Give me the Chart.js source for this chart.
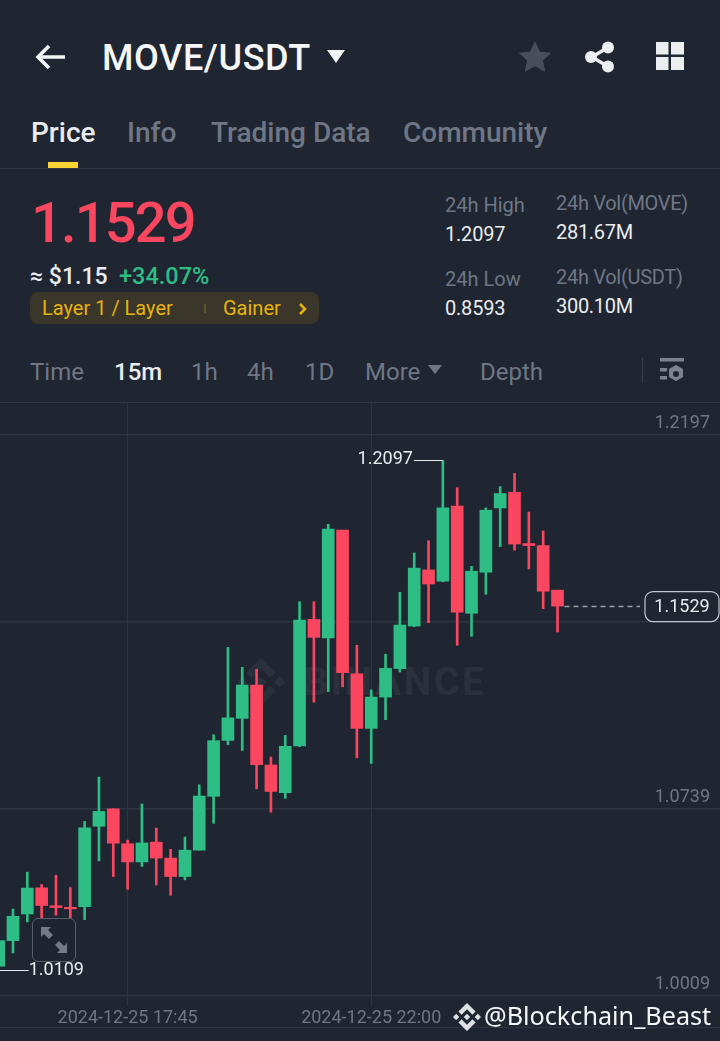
<!DOCTYPE html>
<html>
<head>
<meta charset="utf-8">
<title>MOVE/USDT</title>
<script src="https://cdn.jsdelivr.net/npm/chart.js@4"></script>
<style>
    html, body { margin: 0; padding: 0; background: #1f2631; }
    body { position: relative; width: 720px; height: 1041px; overflow: hidden; font-family: Roboto, sans-serif; }
    .t { position: absolute; white-space: nowrap; line-height: 1; margin-left: -1px; }
    .grey { color: #6f7786; }
    .white { color: #eaecef; }
    .line { position: absolute; left: 0; width: 720px; height: 1px; background: #2f3642; }
    svg { position: absolute; }
    #chartBox { position: absolute; left: 0; top: 402px; width: 720px; height: 626px; }
</style>
</head>
<body>

<!-- cabecalho -->
<svg style="left:34px;top:42px" width="34" height="30" viewBox="0 0 34 30" fill="none" stroke="#f2f3f5" stroke-width="3.6">
    <path d="M31 15H4M15 4L4 15l11 11"/>
</svg>
<div class="t" style="left:103px;top:40px;font-size:36px;font-weight:500;letter-spacing:0.6px;color:#f5f6f7">MOVE/USDT</div>
<svg style="left:326px;top:49px" width="20" height="15"><path d="M1 1h18l-9 13z" fill="#f2f3f5"/></svg>
<svg style="left:518px;top:40px" width="34" height="34" viewBox="0 0 34 34"><path d="M17 2l4.6 10 10.9 1.2-8.1 7.3 2.3 10.7L17 25.7l-9.700 5.500 2.300-10.700L1.500 13.200 12.400 12z" fill="#474e5c" stroke="#474e5c" stroke-linejoin="round"/></svg>
<svg style="left:584px;top:40px" width="32" height="34" viewBox="0 0 32 34">
    <path d="M8 17L23 8M8 17l15 9" stroke="#eceef2" stroke-width="3.500"/>
    <circle cx="7" cy="17" r="6" fill="#eceef2"/><circle cx="24" cy="7.500" r="6" fill="#eceef2"/><circle cx="24" cy="26.500" r="6" fill="#eceef2"/>
</svg>
<svg style="left:656px;top:42px" width="28" height="28"><path d="M0 0h12.500v12.500H0zM15 0h13v12.500H15zM0 15h12.500v13H0zM15 15h13v13H15z" fill="#eceef2"/></svg>

<!-- abas -->
<div class="t white" style="left:32px;top:119px;font-size:28px;font-weight:500">Price</div>
<div class="t grey" style="left:128px;top:119px;font-size:28px;font-weight:500">Info</div>
<div class="t grey" style="left:212px;top:119px;font-size:28px;font-weight:500">Trading Data</div>
<div class="t grey" style="left:404px;top:119px;font-size:28px;font-weight:500">Community</div>
<div style="position:absolute;left:48px;top:162px;width:30px;height:6px;background:#fcd535"></div>
<div class="line" style="top:168px"></div>

<!-- preco -->
<div class="t" style="left:32px;top:195px;font-size:56px;font-weight:500;letter-spacing:-1.8px;color:#fb4660">1.1529</div>
<div class="t white" style="left:31px;top:265px;font-size:23px;font-weight:500">≈ $1.15</div>
<div class="t" style="left:120px;top:265px;font-size:23.500px;font-weight:500;color:#2ebd85">+34.07%</div>
<div style="position:absolute;left:30px;top:292px;width:289px;height:32px;border-radius:8px;background:#3a3629"></div>
<div class="t" style="left:43px;top:298px;font-size:20px;color:#e8b30f">Layer 1 / Layer</div>
<div style="position:absolute;left:204px;top:304px;width:2px;height:9px;background:#5f5526"></div>
<div class="t" style="left:224px;top:298px;font-size:20px;color:#e8b30f">Gainer</div>
<svg style="left:298px;top:302px" width="10" height="14" fill="none" stroke="#e8b30f" stroke-width="2.500"><path d="M2 2l5 5-5 5"/></svg>

<div class="t grey" style="left:446px;top:195px;font-size:20px">24h High</div>
<div class="t white" style="left:446px;top:224px;font-size:20px;letter-spacing:-0.2px">1.2097</div>
<div class="t grey" style="left:446px;top:269px;font-size:20px">24h Low</div>
<div class="t white" style="left:446px;top:298px;font-size:20px;letter-spacing:-0.2px">0.8593</div>
<div class="t grey" style="left:557px;top:193px;font-size:20px;letter-spacing:-0.3px">24h Vol(MOVE)</div>
<div class="t white" style="left:557px;top:222px;font-size:20px;letter-spacing:-0.3px">281.67M</div>
<div class="t grey" style="left:557px;top:267px;font-size:20px;letter-spacing:-0.3px">24h Vol(USDT)</div>
<div class="t white" style="left:557px;top:296px;font-size:20px;letter-spacing:-0.3px">300.10M</div>

<!-- intervalos -->
<div class="t grey" style="left:31px;top:360px;font-size:24px">Time</div>
<div class="t white" style="left:115px;top:360px;font-size:24px;font-weight:500">15m</div>
<div class="t grey" style="left:192px;top:360px;font-size:24px">1h</div>
<div class="t grey" style="left:248px;top:360px;font-size:24px">4h</div>
<div class="t grey" style="left:306px;top:360px;font-size:24px">1D</div>
<div class="t grey" style="left:366px;top:360px;font-size:24px">More</div>
<svg style="left:428px;top:365px" width="14" height="10"><path d="M0 0h14l-7 9z" fill="#6f7786"/></svg>
<div class="t grey" style="left:481px;top:360px;font-size:24px">Depth</div>
<div style="position:absolute;left:642px;top:358px;width:1px;height:25px;background:#383f4b"></div>
<svg style="left:660px;top:358px" width="24" height="26" fill="#7b8391">
    <path d="M0 0h24v3.500H0zM0 10h7v3.500H0zM0 18h7v3.500H0z"/>
    <path fill-rule="evenodd" d="M16 7l7 4v8l-7 4-7-4v-8zm0 6a3 3 0 100 6 3 3 0 000-6z"/>
</svg>

<!-- grafico -->
<div class="line" style="top:402px"></div>
<div class="line" style="top:1027px"></div>
<svg style="left:237px;top:658px" width="48" height="48" viewBox="0 0 24 24"><path fill="#2a313c" d="M16.624 13.92l2.717 2.716-7.353 7.353-7.352-7.352 2.717-2.717 4.636 4.66 4.635-4.66zm4.637-4.636L24 12l-2.715 2.716L18.568 12l2.693-2.716zm-9.272 0l2.716 2.692-2.717 2.717L9.272 12l2.716-2.715zm-9.273 0L5.41 12l-2.692 2.692L0 12l2.716-2.716zM11.99.01l7.353 7.33-2.717 2.715-4.636-4.636-4.635 4.66-2.717-2.716L11.989.011z"/></svg>
<div class="t" style="left:304px;top:663px;font-size:39px;font-weight:700;letter-spacing:2.6px;color:#2a313c">BINANCE</div>
<div id="chartBox"><canvas id="klineChart" width="720" height="626"></canvas></div>

<!-- botao de expandir -->
<div style="position:absolute;left:32px;top:918px;width:42px;height:42px;border:1.5px solid #565e6b;border-radius:6px;background:rgba(31,38,49,0.85)"></div>
<svg style="left:41px;top:927px" width="26" height="26" fill="#737b89">
    <path d="M0 0h10L7 3l5 5-4 4-5-5-3 3zM26 26H16l3-3-5-5 4-4 5 5 3-3z"/>
</svg>

<!-- marca do autor -->
<svg style="left:453px;top:1003px" width="28" height="28" viewBox="0 0 24 24"><path fill="#dfe1e4" d="M16.624 13.92l2.717 2.716-7.353 7.353-7.352-7.352 2.717-2.717 4.636 4.66 4.635-4.66zm4.637-4.636L24 12l-2.715 2.716L18.568 12l2.693-2.716zm-9.272 0l2.716 2.692-2.717 2.717L9.272 12l2.716-2.715zm-9.273 0L5.41 12l-2.692 2.692L0 12l2.716-2.716zM11.99.01l7.353 7.33-2.717 2.715-4.636-4.636-4.635 4.66-2.717-2.716L11.989.011z"/></svg>
<div class="t" style="left:485px;top:1003px;font-size:25.200px;font-family:'Noto Sans',sans-serif;color:#f5f6f7">@Blockchain_Beast</div>

<script>
// Dados (velas de 15 minutos)
const times = [
    '2024-12-25 15:30', '2024-12-25 15:45', '2024-12-25 16:00', '2024-12-25 16:15',
    '2024-12-25 16:30', '2024-12-25 16:45', '2024-12-25 17:00', '2024-12-25 17:15',
    '2024-12-25 17:30', '2024-12-25 17:45', '2024-12-25 18:00', '2024-12-25 18:15',
    '2024-12-25 18:30', '2024-12-25 18:45', '2024-12-25 19:00', '2024-12-25 19:15',
    '2024-12-25 19:30', '2024-12-25 19:45', '2024-12-25 20:00', '2024-12-25 20:15',
    '2024-12-25 20:30', '2024-12-25 20:45', '2024-12-25 21:00', '2024-12-25 21:15',
    '2024-12-25 21:30', '2024-12-25 21:45', '2024-12-25 22:00', '2024-12-25 22:15',
    '2024-12-25 22:30', '2024-12-25 22:45', '2024-12-25 23:00', '2024-12-25 23:15',
    '2024-12-25 23:30', '2024-12-25 23:45', '2024-12-26 00:00', '2024-12-26 00:15',
    '2024-12-26 00:30', '2024-12-26 00:45', '2024-12-26 01:00', '2024-12-26 01:15'
];
const opens = [
    1.0124, 1.0224, 1.0328, 1.0430, 1.0360, 1.0354, 1.0356, 1.0670, 1.0738, 1.0602,
    1.0531, 1.0608, 1.0546, 1.0474, 1.0577, 1.0787, 1.1005, 1.1091, 1.1221, 1.0909,
    1.0801, 1.0983, 1.1477, 1.1405, 1.1825, 1.1265, 1.1052, 1.1174, 1.1285, 1.1451,
    1.1670, 1.1626, 1.1919, 1.1501, 1.1661, 1.1912, 1.1973, 1.1773, 1.1765, 1.1591
];
const highs = [
    1.0261, 1.0347, 1.0491, 1.0443, 1.0479, 1.0431, 1.0689, 1.0862, 1.0738, 1.0616,
    1.0757, 1.0663, 1.0580, 1.0628, 1.0832, 1.1027, 1.1368, 1.1290, 1.1282, 1.0940,
    1.1025, 1.1546, 1.1546, 1.1848, 1.1825, 1.1376, 1.1202, 1.1341, 1.1583, 1.1736,
    1.1784, 1.2097, 1.1991, 1.1684, 1.1912, 1.1995, 1.2046, 1.1896, 1.1822, 1.1591
];
const lows = [
    1.0109, 1.0176, 1.0297, 1.0310, 1.0323, 1.0309, 1.0306, 1.0535, 1.0474, 1.0424,
    1.0513, 1.0441, 1.0401, 1.0461, 1.0577, 1.0682, 1.0988, 1.0966, 1.0816, 1.0725,
    1.0779, 1.0981, 1.1154, 1.1195, 1.1214, 1.0937, 1.0915, 1.1086, 1.1272, 1.1449,
    1.1464, 1.1624, 1.1376, 1.1411, 1.1575, 1.1761, 1.1747, 1.1674, 1.1519, 1.1428
];
const closes = [
    1.0224, 1.0319, 1.0429, 1.0361, 1.0353, 1.0348, 1.0664, 1.0728, 1.0604, 1.0531,
    1.0605, 1.0546, 1.0474, 1.0577, 1.0788, 1.1004, 1.1093, 1.1221, 1.0910, 1.0806,
    1.0982, 1.1474, 1.1407, 1.1829, 1.1269, 1.1052, 1.1174, 1.1286, 1.1455, 1.1677,
    1.1615, 1.1912, 1.1505, 1.1665, 1.1903, 1.1968, 1.1771, 1.1765, 1.1587, 1.1529
];
const priceTicks = [1.2197, 1.1468, 1.0739, 1.0009];
const timeTicks = [9, 26];   // 17:45 e 22:00

const GREEN = '#2ebd85';
const RED = '#fb4660';
const GRID = '#2d3440';
const candleColor = (ctx) => closes[ctx.dataIndex] >= opens[ctx.dataIndex] ? GREEN : RED;

// Marcas de maxima, minima e ultimo preco
const pricePlugin = {
    id: 'pricePlugin',
    afterDatasetsDraw(chart) {
        const { ctx, scales: { x, y } } = chart;
        ctx.save();
        ctx.font = '18px Roboto, sans-serif';
        ctx.textBaseline = 'middle';

        // maxima
        const iHigh = highs.indexOf(Math.max(...highs));
        const yHigh = y.getPixelForValue(highs[iHigh]);
        ctx.strokeStyle = ctx.fillStyle = '#eaecef';
        ctx.lineWidth = 1;
        ctx.beginPath();
        ctx.moveTo(x.getPixelForValue(iHigh), Math.round(yHigh) + 0.5);
        ctx.lineTo(x.getPixelForValue(iHigh) - 29, Math.round(yHigh) + 0.5);
        ctx.stroke();
        ctx.textAlign = 'right';
        ctx.fillText(highs[iHigh].toFixed(4), x.getPixelForValue(iHigh) - 30, yHigh - 1);

        // minima
        const iLow = lows.indexOf(Math.min(...lows));
        const yLow = y.getPixelForValue(lows[iLow]);
        ctx.beginPath();
        ctx.moveTo(x.getPixelForValue(iLow), Math.round(yLow) + 0.5);
        ctx.lineTo(x.getPixelForValue(iLow) + 30, Math.round(yLow) + 0.5);
        ctx.stroke();
        ctx.textAlign = 'left';
        ctx.fillText(lows[iLow].toFixed(4), x.getPixelForValue(iLow) + 30, yLow);

        // ultimo preco
        const last = closes[closes.length - 1];
        const yLast = y.getPixelForValue(last);
        ctx.strokeStyle = '#9aa1ad';
        ctx.lineWidth = 1.5;
        ctx.setLineDash([5, 4]);
        ctx.beginPath();
        ctx.moveTo(x.getPixelForValue(closes.length - 1) + 7, Math.round(yLast) + 0.5);
        ctx.lineTo(640, Math.round(yLast) + 0.5);
        ctx.stroke();
        ctx.setLineDash([]);
        ctx.fillStyle = '#1f2631';
        ctx.strokeStyle = '#c4c8cf';
        ctx.lineWidth = 1.2;
        ctx.beginPath();
        ctx.roundRect(645, yLast - 14.5, 74, 30, 8);
        ctx.fill();
        ctx.stroke();
        ctx.fillStyle = '#eaecef';
        ctx.textAlign = 'center';
        ctx.fillText(last.toFixed(4), 682, yLast + 1);
        ctx.restore();
    }
};

function noScalePadding(scale) {
    scale.paddingTop = 0;
    scale.paddingBottom = 0;
    scale.paddingLeft = 0;
    scale.paddingRight = 0;
}

function initChart() {
    new Chart(document.getElementById('klineChart'), {
        type: 'bar',
        data: {
            datasets: [{
                // pavios
                data: times.map((t, i) => ({ x: i, y: [lows[i], highs[i]] })),
                backgroundColor: candleColor,
                barThickness: 2,
                grouped: false,
                order: 2
            }, {
                // corpos
                data: times.map((t, i) => ({ x: i, y: [opens[i], closes[i]] })),
                backgroundColor: candleColor,
                barThickness: 12,
                grouped: false,
                order: 1
            }]
        },
        options: {
            responsive: false,
            animation: false,
            layout: { padding: 0 },
            plugins: {
                legend: { display: false },
                tooltip: { enabled: false }
            },
            scales: {
                x: {
                    type: 'linear',
                    offset: false,
                    min: 0.094,
                    max: 50.34,
                    afterBuildTicks(scale) {
                        scale.ticks = timeTicks.map(v => ({ value: v }));
                    },
                    afterFit(scale) {
                        scale.height = 22;
                        noScalePadding(scale);
                    },
                    grid: { color: GRID, lineWidth: 1, drawTicks: false, offset: false },
                    border: { display: false },
                    ticks: {
                        color: '#6f7786',
                        font: { family: 'Roboto', size: 18 },
                        padding: 2,
                        maxRotation: 0,
                        autoSkip: false,
                        callback: (value) => times[value]
                    }
                },
                y: {
                    type: 'linear',
                    position: 'right',
                    min: 0.9969,
                    max: 1.2325,
                    afterBuildTicks(scale) {
                        scale.ticks = priceTicks.map(v => ({ value: v }));
                    },
                    afterFit(scale) {
                        scale.width = 0;
                        noScalePadding(scale);
                    },
                    grid: { color: GRID, lineWidth: 1.5, drawTicks: false },
                    border: { display: false },
                    ticks: {
                        color: '#6f7786',
                        font: { family: 'Roboto', size: 18 },
                        mirror: true,
                        padding: -10,
                        labelOffset: -11,
                        callback: (value) => value.toFixed(4)
                    }
                }
            }
        },
        plugins: [pricePlugin]
    });
}

initChart();
</script>
</body>
</html>
